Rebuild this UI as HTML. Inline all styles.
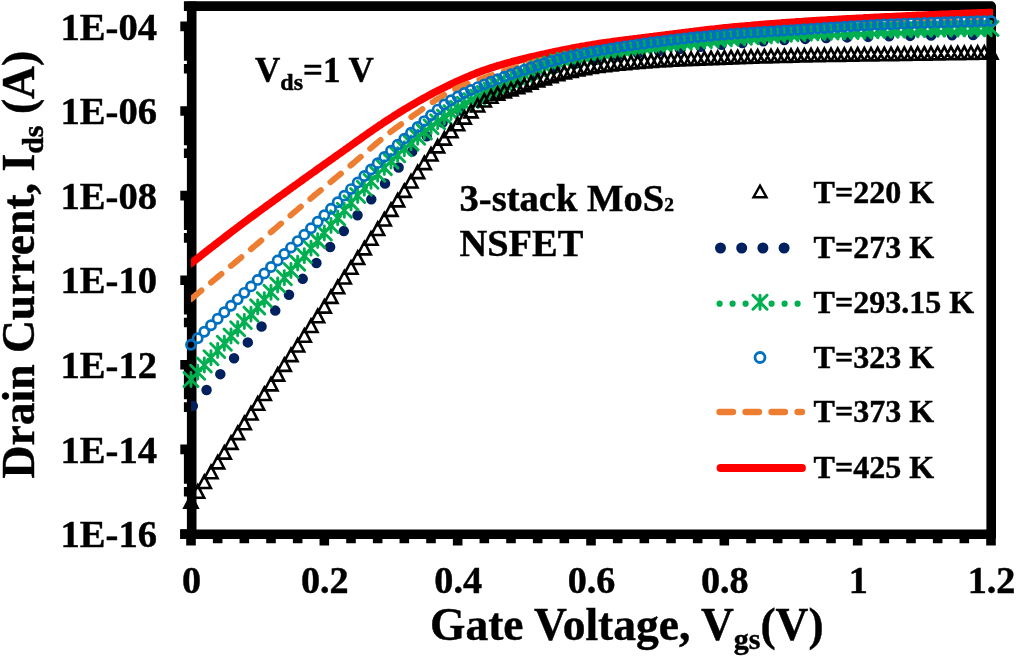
<!DOCTYPE html>
<html><head><meta charset="utf-8"><title>Drain current vs gate voltage</title>
<style>html,body{margin:0;padding:0;background:#fff;} svg{display:block;}</style>
</head><body>
<svg width="1016" height="658" viewBox="0 0 1016 658"><defs><clipPath id="pa"><rect x="191" y="3" width="802" height="531"/></clipPath></defs><rect width="1016" height="658" fill="#fff"/><path d="M183.9,6.1 H991.2 V538.6" fill="none" stroke="#000" stroke-width="9.6" stroke-linejoin="round"/><path d="M191.7,1.5 V538.6 M180.2,534.2 H995.6" fill="none" stroke="#000" stroke-width="9.6"/><path d="M180.3,534.00 H188 M180.3,449.40 H188 M180.3,364.80 H188 M180.3,280.20 H188 M180.3,195.60 H188 M180.3,111.00 H188 M180.3,26.40 H188 M183.9,491.70 H188 M183.9,478.97 H188 M183.9,471.52 H188 M183.9,466.23 H188 M183.9,462.13 H188 M183.9,458.78 H188 M183.9,455.95 H188 M183.9,453.50 H188 M183.9,451.34 H188 M183.9,407.10 H188 M183.9,394.37 H188 M183.9,386.92 H188 M183.9,381.63 H188 M183.9,377.53 H188 M183.9,374.18 H188 M183.9,371.35 H188 M183.9,368.90 H188 M183.9,366.74 H188 M183.9,322.50 H188 M183.9,309.77 H188 M183.9,302.32 H188 M183.9,297.03 H188 M183.9,292.93 H188 M183.9,289.58 H188 M183.9,286.75 H188 M183.9,284.30 H188 M183.9,282.14 H188 M183.9,237.90 H188 M183.9,225.17 H188 M183.9,217.72 H188 M183.9,212.43 H188 M183.9,208.33 H188 M183.9,204.98 H188 M183.9,202.15 H188 M183.9,199.70 H188 M183.9,197.54 H188 M183.9,153.30 H188 M183.9,140.57 H188 M183.9,133.12 H188 M183.9,127.83 H188 M183.9,123.73 H188 M183.9,120.38 H188 M183.9,117.55 H188 M183.9,115.10 H188 M183.9,112.94 H188 M183.9,68.70 H188 M183.9,55.97 H188 M183.9,48.52 H188 M183.9,43.23 H188 M183.9,39.13 H188 M183.9,35.78 H188 M183.9,32.95 H188 M183.9,30.50 H188 M183.9,28.34 H188" stroke="#000" stroke-width="9.6" fill="none"/><path d="M191.00,536 V545.6 M217.67,536 V543.3 M244.33,536 V543.3 M271.00,536 V543.3 M297.67,536 V543.3 M324.33,536 V545.6 M351.00,536 V543.3 M377.67,536 V543.3 M404.33,536 V543.3 M431.00,536 V543.3 M457.67,536 V545.6 M484.33,536 V543.3 M511.00,536 V543.3 M537.67,536 V543.3 M564.33,536 V543.3 M591.00,536 V545.6 M617.67,536 V543.3 M644.33,536 V543.3 M671.00,536 V543.3 M697.67,536 V543.3 M724.33,536 V545.6 M751.00,536 V543.3 M777.67,536 V543.3 M804.33,536 V543.3 M831.00,536 V543.3 M857.67,536 V545.6 M884.33,536 V543.3 M911.00,536 V543.3 M937.67,536 V543.3 M964.33,536 V543.3 M991.00,536 V545.6" stroke="#000" stroke-width="9.6" fill="none"/><path d="M191.0,263.4 L193.0,261.9 L195.0,260.3 L197.0,258.7 L199.0,257.2 L201.0,255.6 L203.0,254.0 L205.0,252.4 L207.0,250.9 L209.0,249.3 L211.0,247.7 L213.0,246.2 L215.0,244.6 L217.0,243.1 L219.0,241.5 L221.0,240.0 L223.0,238.5 L225.0,236.9 L227.0,235.4 L229.0,233.9 L231.0,232.3 L233.0,230.8 L235.0,229.3 L237.0,227.8 L239.0,226.3 L241.0,224.8 L243.0,223.3 L245.0,221.8 L247.0,220.3 L249.0,218.8 L251.0,217.3 L253.0,215.9 L255.0,214.4 L257.0,212.9 L259.0,211.5 L261.0,210.0 L263.0,208.5 L265.0,207.1 L267.0,205.6 L269.0,204.2 L271.0,202.7 L273.0,201.3 L275.0,199.8 L277.0,198.4 L279.0,196.9 L281.0,195.5 L283.0,194.1 L285.0,192.6 L287.0,191.2 L289.0,189.7 L291.0,188.3 L293.0,186.8 L295.0,185.4 L297.0,184.0 L299.0,182.5 L301.0,181.1 L303.0,179.6 L305.0,178.2 L307.0,176.8 L309.0,175.3 L311.0,173.9 L313.0,172.5 L315.0,171.1 L317.0,169.6 L319.0,168.2 L321.0,166.8 L323.0,165.3 L325.0,163.9 L327.0,162.5 L329.0,161.1 L331.0,159.7 L333.0,158.3 L335.0,156.8 L337.0,155.4 L339.0,154.0 L341.0,152.6 L343.0,151.2 L345.0,149.7 L347.0,148.3 L349.0,146.9 L351.0,145.5 L353.0,144.0 L355.0,142.6 L357.0,141.2 L359.0,139.8 L361.0,138.4 L363.0,136.9 L365.0,135.5 L367.0,134.1 L369.0,132.7 L371.0,131.3 L373.0,129.9 L375.0,128.5 L377.0,127.2 L379.0,125.8 L381.0,124.5 L383.0,123.1 L385.0,121.8 L387.0,120.5 L389.0,119.2 L391.0,117.9 L393.0,116.6 L395.0,115.3 L397.0,114.1 L399.0,112.8 L401.0,111.6 L403.0,110.3 L405.0,109.1 L407.0,107.9 L409.0,106.7 L411.0,105.5 L413.0,104.4 L415.0,103.2 L417.0,102.0 L419.0,100.9 L421.0,99.8 L423.0,98.7 L425.0,97.6 L427.0,96.5 L429.0,95.4 L431.0,94.3 L433.0,93.2 L435.0,92.2 L437.0,91.2 L439.0,90.1 L441.0,89.1 L443.0,88.1 L445.0,87.1 L447.0,86.1 L449.0,85.2 L451.0,84.2 L453.0,83.3 L455.0,82.3 L457.0,81.4 L459.0,80.5 L461.0,79.6 L463.0,78.7 L465.0,77.9 L467.0,77.0 L469.0,76.2 L471.0,75.3 L473.0,74.5 L475.0,73.7 L477.0,72.9 L479.0,72.2 L481.0,71.4 L483.0,70.7 L485.0,70.0 L487.0,69.3 L489.0,68.6 L491.0,67.9 L493.0,67.3 L495.0,66.7 L497.0,66.0 L499.0,65.4 L501.0,64.9 L503.0,64.3 L505.0,63.7 L507.0,63.1 L509.0,62.6 L511.0,62.1 L513.0,61.5 L515.0,61.0 L517.0,60.5 L519.0,60.0 L521.0,59.5 L523.0,59.0 L525.0,58.5 L527.0,58.0 L529.0,57.5 L531.0,57.0 L533.0,56.6 L535.0,56.1 L537.0,55.6 L539.0,55.2 L541.0,54.7 L543.0,54.3 L545.0,53.9 L547.0,53.4 L549.0,53.0 L551.0,52.6 L553.0,52.1 L555.0,51.7 L557.0,51.3 L559.0,50.9 L561.0,50.5 L563.0,50.1 L565.0,49.7 L567.0,49.3 L569.0,48.9 L571.0,48.5 L573.0,48.1 L575.0,47.7 L577.0,47.3 L579.0,47.0 L581.0,46.6 L583.0,46.2 L585.0,45.9 L587.0,45.5 L589.0,45.2 L591.0,44.9 L593.0,44.6 L595.0,44.2 L597.0,43.9 L599.0,43.6 L601.0,43.3 L603.0,43.0 L605.0,42.7 L607.0,42.4 L609.0,42.2 L611.0,41.9 L613.0,41.6 L615.0,41.3 L617.0,41.1 L619.0,40.8 L621.0,40.5 L623.0,40.3 L625.0,40.0 L627.0,39.7 L629.0,39.5 L631.0,39.2 L633.0,39.0 L635.0,38.7 L637.0,38.5 L639.0,38.2 L641.0,38.0 L643.0,37.7 L645.0,37.5 L647.0,37.2 L649.0,37.0 L651.0,36.7 L653.0,36.5 L655.0,36.2 L657.0,36.0 L659.0,35.7 L661.0,35.5 L663.0,35.2 L665.0,35.0 L667.0,34.7 L669.0,34.5 L671.0,34.2 L673.0,34.0 L675.0,33.7 L677.0,33.5 L679.0,33.2 L681.0,33.0 L683.0,32.7 L685.0,32.5 L687.0,32.2 L689.0,32.0 L691.0,31.7 L693.0,31.5 L695.0,31.2 L697.0,31.0 L699.0,30.8 L701.0,30.5 L703.0,30.3 L705.0,30.1 L707.0,29.8 L709.0,29.6 L711.0,29.4 L713.0,29.2 L715.0,29.0 L717.0,28.7 L719.0,28.5 L721.0,28.3 L723.0,28.1 L725.0,27.9 L727.0,27.7 L729.0,27.5 L731.0,27.3 L733.0,27.1 L735.0,26.9 L737.0,26.8 L739.0,26.6 L741.0,26.4 L743.0,26.2 L745.0,26.0 L747.0,25.8 L749.0,25.7 L751.0,25.5 L753.0,25.3 L755.0,25.1 L757.0,25.0 L759.0,24.8 L761.0,24.6 L763.0,24.5 L765.0,24.3 L767.0,24.1 L769.0,24.0 L771.0,23.8 L773.0,23.7 L775.0,23.5 L777.0,23.4 L779.0,23.2 L781.0,23.1 L783.0,22.9 L785.0,22.8 L787.0,22.6 L789.0,22.5 L791.0,22.3 L793.0,22.2 L795.0,22.1 L797.0,21.9 L799.0,21.8 L801.0,21.7 L803.0,21.5 L805.0,21.4 L807.0,21.3 L809.0,21.1 L811.0,21.0 L813.0,20.9 L815.0,20.8 L817.0,20.6 L819.0,20.5 L821.0,20.4 L823.0,20.3 L825.0,20.2 L827.0,20.0 L829.0,19.9 L831.0,19.8 L833.0,19.7 L835.0,19.6 L837.0,19.5 L839.0,19.3 L841.0,19.2 L843.0,19.1 L845.0,19.0 L847.0,18.9 L849.0,18.8 L851.0,18.7 L853.0,18.6 L855.0,18.5 L857.0,18.4 L859.0,18.3 L861.0,18.2 L863.0,18.1 L865.0,17.9 L867.0,17.8 L869.0,17.7 L871.0,17.6 L873.0,17.5 L875.0,17.4 L877.0,17.3 L879.0,17.2 L881.0,17.1 L883.0,17.0 L885.0,16.9 L887.0,16.8 L889.0,16.8 L891.0,16.7 L893.0,16.6 L895.0,16.5 L897.0,16.4 L899.0,16.3 L901.0,16.2 L903.0,16.1 L905.0,16.0 L907.0,15.9 L909.0,15.8 L911.0,15.7 L913.0,15.6 L915.0,15.5 L917.0,15.4 L919.0,15.4 L921.0,15.3 L923.0,15.2 L925.0,15.1 L927.0,15.0 L929.0,14.9 L931.0,14.8 L933.0,14.7 L935.0,14.7 L937.0,14.6 L939.0,14.5 L941.0,14.4 L943.0,14.3 L945.0,14.2 L947.0,14.2 L949.0,14.1 L951.0,14.0 L953.0,13.9 L955.0,13.8 L957.0,13.8 L959.0,13.7 L961.0,13.6 L963.0,13.5 L965.0,13.4 L967.0,13.4 L969.0,13.3 L971.0,13.2 L973.0,13.1 L975.0,13.1 L977.0,13.0 L979.0,12.9 L981.0,12.8 L983.0,12.8 L985.0,12.7 L987.0,12.6 L989.0,12.6 L991.0,12.5" fill="none" stroke="#FF0000" stroke-width="7.6" stroke-linecap="round" stroke-linejoin="round" clip-path="url(#pa)"/><path d="M191.0,299.1 L193.0,297.5 L195.0,295.8 L197.0,294.2 L199.0,292.5 L201.0,290.9 L203.0,289.2 L205.0,287.6 L207.0,285.9 L209.0,284.2 L211.0,282.6 L213.0,280.9 L215.0,279.3 L217.0,277.6 L219.0,275.9 L221.0,274.3 L223.0,272.6 L225.0,270.9 L227.0,269.3 L229.0,267.6 L231.0,265.9 L233.0,264.3 L235.0,262.6 L237.0,260.9 L239.0,259.2 L241.0,257.6 L243.0,255.9 L245.0,254.2 L247.0,252.5 L249.0,250.8 L251.0,249.1 L253.0,247.4 L255.0,245.8 L257.0,244.1 L259.0,242.4 L261.0,240.7 L263.0,238.9 L265.0,237.2 L267.0,235.5 L269.0,233.8 L271.0,232.1 L273.0,230.4 L275.0,228.7 L277.0,227.0 L279.0,225.3 L281.0,223.6 L283.0,221.8 L285.0,220.1 L287.0,218.4 L289.0,216.7 L291.0,215.0 L293.0,213.3 L295.0,211.6 L297.0,210.0 L299.0,208.3 L301.0,206.6 L303.0,204.9 L305.0,203.2 L307.0,201.6 L309.0,199.9 L311.0,198.2 L313.0,196.6 L315.0,194.9 L317.0,193.3 L319.0,191.6 L321.0,190.0 L323.0,188.3 L325.0,186.7 L327.0,185.0 L329.0,183.4 L331.0,181.7 L333.0,180.1 L335.0,178.4 L337.0,176.8 L339.0,175.1 L341.0,173.5 L343.0,171.8 L345.0,170.1 L347.0,168.5 L349.0,166.8 L351.0,165.1 L353.0,163.4 L355.0,161.7 L357.0,160.0 L359.0,158.3 L361.0,156.6 L363.0,154.9 L365.0,153.1 L367.0,151.4 L369.0,149.7 L371.0,148.0 L373.0,146.3 L375.0,144.6 L377.0,142.9 L379.0,141.3 L381.0,139.6 L383.0,138.0 L385.0,136.4 L387.0,134.8 L389.0,133.2 L391.0,131.7 L393.0,130.2 L395.0,128.7 L397.0,127.2 L399.0,125.8 L401.0,124.3 L403.0,122.9 L405.0,121.4 L407.0,120.0 L409.0,118.6 L411.0,117.2 L413.0,115.8 L415.0,114.4 L417.0,113.0 L419.0,111.6 L421.0,110.1 L423.0,108.7 L425.0,107.3 L427.0,105.9 L429.0,104.6 L431.0,103.2 L433.0,101.9 L435.0,100.6 L437.0,99.3 L439.0,98.0 L441.0,96.8 L443.0,95.6 L445.0,94.4 L447.0,93.3 L449.0,92.2 L451.0,91.2 L453.0,90.2 L455.0,89.2 L457.0,88.2 L459.0,87.3 L461.0,86.5 L463.0,85.6 L465.0,84.8 L467.0,84.0 L469.0,83.3 L471.0,82.5 L473.0,81.8 L475.0,81.1 L477.0,80.4 L479.0,79.7 L481.0,79.0 L483.0,78.3 L485.0,77.6 L487.0,76.9 L489.0,76.2 L491.0,75.5 L493.0,74.8 L495.0,74.2 L497.0,73.5 L499.0,72.8 L501.0,72.1 L503.0,71.5 L505.0,70.8 L507.0,70.1 L509.0,69.5 L511.0,68.8 L513.0,68.2 L515.0,67.6 L517.0,66.9 L519.0,66.3 L521.0,65.7 L523.0,65.1 L525.0,64.5 L527.0,64.0 L529.0,63.4 L531.0,62.8 L533.0,62.3 L535.0,61.7 L537.0,61.2 L539.0,60.7 L541.0,60.2 L543.0,59.7 L545.0,59.2 L547.0,58.7 L549.0,58.3 L551.0,57.8 L553.0,57.4 L555.0,57.0 L557.0,56.5 L559.0,56.1 L561.0,55.7 L563.0,55.3 L565.0,54.9 L567.0,54.5 L569.0,54.1 L571.0,53.7 L573.0,53.3 L575.0,52.9 L577.0,52.5 L579.0,52.1 L581.0,51.8 L583.0,51.4 L585.0,51.0 L587.0,50.7 L589.0,50.3 L591.0,50.0 L593.0,49.6 L595.0,49.3 L597.0,48.9 L599.0,48.6 L601.0,48.2 L603.0,47.9 L605.0,47.6 L607.0,47.3 L609.0,46.9 L611.0,46.6 L613.0,46.3 L615.0,46.0 L617.0,45.7 L619.0,45.4 L621.0,45.1 L623.0,44.8 L625.0,44.5 L627.0,44.2 L629.0,43.9 L631.0,43.7 L633.0,43.4 L635.0,43.1 L637.0,42.8 L639.0,42.6 L641.0,42.3 L643.0,42.1 L645.0,41.8 L647.0,41.6 L649.0,41.3 L651.0,41.1 L653.0,40.8 L655.0,40.6 L657.0,40.4 L659.0,40.1 L661.0,39.9 L663.0,39.7 L665.0,39.5 L667.0,39.2 L669.0,39.0 L671.0,38.8 L673.0,38.6 L675.0,38.4 L677.0,38.2 L679.0,38.0 L681.0,37.8 L683.0,37.6 L685.0,37.4 L687.0,37.2 L689.0,37.0 L691.0,36.8 L693.0,36.6 L695.0,36.4 L697.0,36.2 L699.0,36.0 L701.0,35.8 L703.0,35.6 L705.0,35.5 L707.0,35.3 L709.0,35.1 L711.0,34.9 L713.0,34.7 L715.0,34.6 L717.0,34.4 L719.0,34.2 L721.0,34.1 L723.0,33.9 L725.0,33.7 L727.0,33.6 L729.0,33.4 L731.0,33.2 L733.0,33.1 L735.0,32.9 L737.0,32.7 L739.0,32.6 L741.0,32.4 L743.0,32.3 L745.0,32.1 L747.0,32.0 L749.0,31.8 L751.0,31.7 L753.0,31.5 L755.0,31.4 L757.0,31.2 L759.0,31.1 L761.0,31.0 L763.0,30.8 L765.0,30.7 L767.0,30.5 L769.0,30.4 L771.0,30.3 L773.0,30.1 L775.0,30.0 L777.0,29.9 L779.0,29.7 L781.0,29.6 L783.0,29.5 L785.0,29.3 L787.0,29.2 L789.0,29.1 L791.0,28.9 L793.0,28.8 L795.0,28.7 L797.0,28.6 L799.0,28.4 L801.0,28.3 L803.0,28.2 L805.0,28.1 L807.0,27.9 L809.0,27.8 L811.0,27.7 L813.0,27.6 L815.0,27.4 L817.0,27.3 L819.0,27.2 L821.0,27.1 L823.0,26.9 L825.0,26.8 L827.0,26.7 L829.0,26.6 L831.0,26.5 L833.0,26.3 L835.0,26.2 L837.0,26.1 L839.0,26.0 L841.0,25.9 L843.0,25.7 L845.0,25.6 L847.0,25.5 L849.0,25.4 L851.0,25.3 L853.0,25.2 L855.0,25.0 L857.0,24.9 L859.0,24.8 L861.0,24.7 L863.0,24.6 L865.0,24.5 L867.0,24.4 L869.0,24.3 L871.0,24.2 L873.0,24.0 L875.0,23.9 L877.0,23.8 L879.0,23.7 L881.0,23.6 L883.0,23.5 L885.0,23.4 L887.0,23.3 L889.0,23.2 L891.0,23.1 L893.0,23.0 L895.0,22.9 L897.0,22.8 L899.0,22.7 L901.0,22.6 L903.0,22.5 L905.0,22.4 L907.0,22.3 L909.0,22.2 L911.0,22.1 L913.0,22.0 L915.0,21.9 L917.0,21.8 L919.0,21.7 L921.0,21.6 L923.0,21.5 L925.0,21.5 L927.0,21.4 L929.0,21.3 L931.0,21.2 L933.0,21.1 L935.0,21.0 L937.0,20.9 L939.0,20.8 L941.0,20.8 L943.0,20.7 L945.0,20.6 L947.0,20.5 L949.0,20.4 L951.0,20.4 L953.0,20.3 L955.0,20.2 L957.0,20.1 L959.0,20.1 L961.0,20.0 L963.0,19.9 L965.0,19.8 L967.0,19.8 L969.0,19.7 L971.0,19.6 L973.0,19.6 L975.0,19.5 L977.0,19.4 L979.0,19.4 L981.0,19.3 L983.0,19.2 L985.0,19.2 L987.0,19.1 L989.0,19.0 L991.0,18.9" fill="none" stroke="#ED7D31" stroke-width="6" stroke-dasharray="13.5 12.5" stroke-linecap="round" clip-path="url(#pa)"/><path d="M191.0,408.0 L192.0,406.8 L193.0,405.7 L194.0,404.5 L195.0,403.4 L196.0,402.2 L197.0,401.1 L198.0,399.9 L199.0,398.8 L200.0,397.6 L201.0,396.5 L202.0,395.3 L203.0,394.1 L204.0,393.0 L205.0,391.8 L206.0,390.7 L207.0,389.5 L208.0,388.4 L209.0,387.2 L210.0,386.1 L211.0,384.9 L212.0,383.7 L213.0,382.6 L214.0,381.4 L215.0,380.3 L216.0,379.1 L217.0,378.0 L218.0,376.8 L219.0,375.7 L220.0,374.5 L221.0,373.4 L222.0,372.2 L223.0,371.0 L224.0,369.9 L225.0,368.7 L226.0,367.6 L227.0,366.4 L228.0,365.3 L229.0,364.1 L230.0,363.0 L231.0,361.8 L232.0,360.6 L233.0,359.5 L234.0,358.3 L235.0,357.2 L236.0,356.0 L237.0,354.9 L238.0,353.7 L239.0,352.6 L240.0,351.4 L241.0,350.2 L242.0,349.1 L243.0,347.9 L244.0,346.8 L245.0,345.6 L246.0,344.5 L247.0,343.3 L248.0,342.2 L249.0,341.0 L250.0,339.8 L251.0,338.7 L252.0,337.5 L253.0,336.4 L254.0,335.2 L255.0,334.1 L256.0,332.9 L257.0,331.7 L258.0,330.6 L259.0,329.4 L260.0,328.3 L261.0,327.1 L262.0,326.0 L263.0,324.8 L264.0,323.7 L265.0,322.5 L266.0,321.3 L267.0,320.2 L268.0,319.0 L269.0,317.9 L270.0,316.7 L271.0,315.6 L272.0,314.4 L273.0,313.2 L274.0,312.1 L275.0,310.9 L276.0,309.8 L277.0,308.6 L278.0,307.5 L279.0,306.3 L280.0,305.2 L281.0,304.0 L282.0,302.8 L283.0,301.7 L284.0,300.5 L285.0,299.4 L286.0,298.2 L287.0,297.1 L288.0,295.9 L289.0,294.7 L290.0,293.6 L291.0,292.4 L292.0,291.3 L293.0,290.1 L294.0,288.9 L295.0,287.8 L296.0,286.6 L297.0,285.5 L298.0,284.3 L299.0,283.2 L300.0,282.0 L301.0,280.8 L302.0,279.7 L303.0,278.5 L304.0,277.4 L305.0,276.2 L306.0,275.0 L307.0,273.9 L308.0,272.7 L309.0,271.6 L310.0,270.4 L311.0,269.2 L312.0,268.1 L313.0,266.9 L314.0,265.8 L315.0,264.6 L316.0,263.4 L317.0,262.3 L318.0,261.1 L319.0,259.9 L320.0,258.8 L321.0,257.6 L322.0,256.5 L323.0,255.3 L324.0,254.1 L325.0,253.0 L326.0,251.8 L327.0,250.7 L328.0,249.5 L329.0,248.3 L330.0,247.2 L331.0,246.0 L332.0,244.8 L333.0,243.7 L334.0,242.5 L335.0,241.4 L336.0,240.2 L337.0,239.0 L338.0,237.9 L339.0,236.7 L340.0,235.6 L341.0,234.4 L342.0,233.2 L343.0,232.1 L344.0,230.9 L345.0,229.8 L346.0,228.6 L347.0,227.4 L348.0,226.3 L349.0,225.1 L350.0,224.0 L351.0,222.8 L352.0,221.7 L353.0,220.5 L354.0,219.3 L355.0,218.2 L356.0,217.0 L357.0,215.9 L358.0,214.7 L359.0,213.6 L360.0,212.4 L361.0,211.2 L362.0,210.1 L363.0,208.9 L364.0,207.8 L365.0,206.6 L366.0,205.5 L367.0,204.3 L368.0,203.2 L369.0,202.0 L370.0,200.9 L371.0,199.7 L372.0,198.5 L373.0,197.4 L374.0,196.2 L375.0,195.1 L376.0,193.9 L377.0,192.8 L378.0,191.6 L379.0,190.5 L380.0,189.3 L381.0,188.2 L382.0,187.0 L383.0,185.8 L384.0,184.7 L385.0,183.5 L386.0,182.4 L387.0,181.2 L388.0,180.0 L389.0,178.8 L390.0,177.7 L391.0,176.5 L392.0,175.3 L393.0,174.1 L394.0,172.9 L395.0,171.7 L396.0,170.6 L397.0,169.4 L398.0,168.2 L399.0,167.0 L400.0,165.8 L401.0,164.6 L402.0,163.4 L403.0,162.2 L404.0,161.0 L405.0,159.9 L406.0,158.7 L407.0,157.5 L408.0,156.3 L409.0,155.2 L410.0,154.0 L411.0,152.9 L412.0,151.7 L413.0,150.6 L414.0,149.5 L415.0,148.4 L416.0,147.3 L417.0,146.2 L418.0,145.1 L419.0,144.0 L420.0,143.0 L421.0,142.0 L422.0,140.9 L423.0,139.9 L424.0,138.9 L425.0,137.9 L426.0,137.0 L427.0,136.0 L428.0,135.0 L429.0,134.1 L430.0,133.2 L431.0,132.3 L432.0,131.4 L433.0,130.5 L434.0,129.6 L435.0,128.8 L436.0,127.9 L437.0,127.1 L438.0,126.3 L439.0,125.5 L440.0,124.7 L441.0,123.9 L442.0,123.1 L443.0,122.3 L444.0,121.6 L445.0,120.8 L446.0,120.1 L447.0,119.3 L448.0,118.6 L449.0,117.9 L450.0,117.2 L451.0,116.5 L452.0,115.8 L453.0,115.1 L454.0,114.4 L455.0,113.7 L456.0,113.0 L457.0,112.4 L458.0,111.7 L459.0,111.0 L460.0,110.4 L461.0,109.8 L462.0,109.1 L463.0,108.5 L464.0,107.9 L465.0,107.3 L466.0,106.6 L467.0,106.0 L468.0,105.4 L469.0,104.9 L470.0,104.3 L471.0,103.7 L472.0,103.1 L473.0,102.6 L474.0,102.0 L475.0,101.5 L476.0,100.9 L477.0,100.4 L478.0,99.9 L479.0,99.3 L480.0,98.8 L481.0,98.3 L482.0,97.8 L483.0,97.3 L484.0,96.8 L485.0,96.3 L486.0,95.8 L487.0,95.3 L488.0,94.8 L489.0,94.3 L490.0,93.8 L491.0,93.3 L492.0,92.9 L493.0,92.4 L494.0,91.9 L495.0,91.4 L496.0,91.0 L497.0,90.5 L498.0,90.0 L499.0,89.5 L500.0,89.1 L501.0,88.6 L502.0,88.2 L503.0,87.7 L504.0,87.2 L505.0,86.8 L506.0,86.3 L507.0,85.9 L508.0,85.4 L509.0,85.0 L510.0,84.5 L511.0,84.1 L512.0,83.7 L513.0,83.2 L514.0,82.8 L515.0,82.4 L516.0,82.0 L517.0,81.5 L518.0,81.1 L519.0,80.7 L520.0,80.3 L521.0,79.9 L522.0,79.5 L523.0,79.1 L524.0,78.7 L525.0,78.3 L526.0,77.9 L527.0,77.5 L528.0,77.1 L529.0,76.7 L530.0,76.3 L531.0,76.0 L532.0,75.6 L533.0,75.2 L534.0,74.9 L535.0,74.5 L536.0,74.2 L537.0,73.8 L538.0,73.5 L539.0,73.1 L540.0,72.8 L541.0,72.5 L542.0,72.2 L543.0,71.8 L544.0,71.5 L545.0,71.2 L546.0,70.9 L547.0,70.6 L548.0,70.3 L549.0,70.0 L550.0,69.7 L551.0,69.4 L552.0,69.2 L553.0,68.9 L554.0,68.6 L555.0,68.3 L556.0,68.1 L557.0,67.8 L558.0,67.6 L559.0,67.3 L560.0,67.1 L561.0,66.8 L562.0,66.6 L563.0,66.4 L564.0,66.1 L565.0,65.9 L566.0,65.7 L567.0,65.5 L568.0,65.3 L569.0,65.0 L570.0,64.8 L571.0,64.6 L572.0,64.4 L573.0,64.2 L574.0,64.0 L575.0,63.8 L576.0,63.6 L577.0,63.4 L578.0,63.2 L579.0,63.0 L580.0,62.8 L581.0,62.6 L582.0,62.4 L583.0,62.2 L584.0,62.0 L585.0,61.8 L586.0,61.6 L587.0,61.4 L588.0,61.2 L589.0,61.0 L590.0,60.9 L591.0,60.7 L592.0,60.5 L593.0,60.3 L594.0,60.1 L595.0,60.0 L596.0,59.8 L597.0,59.6 L598.0,59.4 L599.0,59.3 L600.0,59.1 L601.0,58.9 L602.0,58.8 L603.0,58.6 L604.0,58.4 L605.0,58.3 L606.0,58.1 L607.0,58.0 L608.0,57.8 L609.0,57.6 L610.0,57.5 L611.0,57.3 L612.0,57.2 L613.0,57.0 L614.0,56.9 L615.0,56.7 L616.0,56.6 L617.0,56.4 L618.0,56.3 L619.0,56.1 L620.0,56.0 L621.0,55.8 L622.0,55.7 L623.0,55.6 L624.0,55.4 L625.0,55.3 L626.0,55.1 L627.0,55.0 L628.0,54.9 L629.0,54.7 L630.0,54.6 L631.0,54.5 L632.0,54.3 L633.0,54.2 L634.0,54.1 L635.0,54.0 L636.0,53.8 L637.0,53.7 L638.0,53.6 L639.0,53.4 L640.0,53.3 L641.0,53.2 L642.0,53.1 L643.0,53.0 L644.0,52.8 L645.0,52.7 L646.0,52.6 L647.0,52.5 L648.0,52.4 L649.0,52.2 L650.0,52.1 L651.0,52.0 L652.0,51.9 L653.0,51.8 L654.0,51.7 L655.0,51.6 L656.0,51.5 L657.0,51.3 L658.0,51.2 L659.0,51.1 L660.0,51.0 L661.0,50.9 L662.0,50.8 L663.0,50.7 L664.0,50.6 L665.0,50.5 L666.0,50.4 L667.0,50.3 L668.0,50.1 L669.0,50.0 L670.0,49.9 L671.0,49.8 L672.0,49.7 L673.0,49.6 L674.0,49.5 L675.0,49.4 L676.0,49.3 L677.0,49.2 L678.0,49.1 L679.0,49.0 L680.0,48.9 L681.0,48.8 L682.0,48.7 L683.0,48.6 L684.0,48.5 L685.0,48.4 L686.0,48.3 L687.0,48.2 L688.0,48.1 L689.0,48.0 L690.0,47.9 L691.0,47.8 L692.0,47.6 L693.0,47.5 L694.0,47.4 L695.0,47.3 L696.0,47.2 L697.0,47.1 L698.0,47.0 L699.0,46.9 L700.0,46.8 L701.0,46.7 L702.0,46.7 L703.0,46.6 L704.0,46.5 L705.0,46.4 L706.0,46.3 L707.0,46.2 L708.0,46.1 L709.0,46.0 L710.0,45.9 L711.0,45.8 L712.0,45.7 L713.0,45.6 L714.0,45.5 L715.0,45.4 L716.0,45.3 L717.0,45.2 L718.0,45.1 L719.0,45.0 L720.0,44.9 L721.0,44.8 L722.0,44.7 L723.0,44.7 L724.0,44.6 L725.0,44.5 L726.0,44.4 L727.0,44.3 L728.0,44.2 L729.0,44.1 L730.0,44.0 L731.0,43.9 L732.0,43.9 L733.0,43.8 L734.0,43.7 L735.0,43.6 L736.0,43.5 L737.0,43.4 L738.0,43.3 L739.0,43.3 L740.0,43.2 L741.0,43.1 L742.0,43.0 L743.0,42.9 L744.0,42.8 L745.0,42.8 L746.0,42.7 L747.0,42.6 L748.0,42.5 L749.0,42.4 L750.0,42.4 L751.0,42.3 L752.0,42.2 L753.0,42.1 L754.0,42.0 L755.0,42.0 L756.0,41.9 L757.0,41.8 L758.0,41.7 L759.0,41.7 L760.0,41.6 L761.0,41.5 L762.0,41.4 L763.0,41.4 L764.0,41.3 L765.0,41.2 L766.0,41.2 L767.0,41.1 L768.0,41.0 L769.0,40.9 L770.0,40.9 L771.0,40.8 L772.0,40.7 L773.0,40.7 L774.0,40.6 L775.0,40.5 L776.0,40.5 L777.0,40.4 L778.0,40.3 L779.0,40.3 L780.0,40.2 L781.0,40.2 L782.0,40.1 L783.0,40.0 L784.0,40.0 L785.0,39.9 L786.0,39.9 L787.0,39.8 L788.0,39.7 L789.0,39.7 L790.0,39.6 L791.0,39.6 L792.0,39.5 L793.0,39.5 L794.0,39.4 L795.0,39.3 L796.0,39.3 L797.0,39.2 L798.0,39.2 L799.0,39.1 L800.0,39.1 L801.0,39.0 L802.0,39.0 L803.0,38.9 L804.0,38.9 L805.0,38.9 L806.0,38.8 L807.0,38.8 L808.0,38.7 L809.0,38.7 L810.0,38.6 L811.0,38.6 L812.0,38.5 L813.0,38.5 L814.0,38.5 L815.0,38.4 L816.0,38.4 L817.0,38.4 L818.0,38.3 L819.0,38.3 L820.0,38.2 L821.0,38.2 L822.0,38.2 L823.0,38.1 L824.0,38.1 L825.0,38.1 L826.0,38.0 L827.0,38.0 L828.0,38.0 L829.0,37.9 L830.0,37.9 L831.0,37.9 L832.0,37.9 L833.0,37.8 L834.0,37.8 L835.0,37.8 L836.0,37.7 L837.0,37.7 L838.0,37.7 L839.0,37.7 L840.0,37.6 L841.0,37.6 L842.0,37.6 L843.0,37.5 L844.0,37.5 L845.0,37.5 L846.0,37.5 L847.0,37.4 L848.0,37.4 L849.0,37.4 L850.0,37.3 L851.0,37.3 L852.0,37.3 L853.0,37.3 L854.0,37.2 L855.0,37.2 L856.0,37.2 L857.0,37.1 L858.0,37.1 L859.0,37.1 L860.0,37.1 L861.0,37.0 L862.0,37.0 L863.0,37.0 L864.0,37.0 L865.0,36.9 L866.0,36.9 L867.0,36.9 L868.0,36.9 L869.0,36.8 L870.0,36.8 L871.0,36.8 L872.0,36.7 L873.0,36.7 L874.0,36.7 L875.0,36.7 L876.0,36.6 L877.0,36.6 L878.0,36.6 L879.0,36.6 L880.0,36.5 L881.0,36.5 L882.0,36.5 L883.0,36.5 L884.0,36.5 L885.0,36.4 L886.0,36.4 L887.0,36.4 L888.0,36.4 L889.0,36.3 L890.0,36.3 L891.0,36.3 L892.0,36.3 L893.0,36.2 L894.0,36.2 L895.0,36.2 L896.0,36.2 L897.0,36.2 L898.0,36.1 L899.0,36.1 L900.0,36.1 L901.0,36.1 L902.0,36.0 L903.0,36.0 L904.0,36.0 L905.0,36.0 L906.0,36.0 L907.0,35.9 L908.0,35.9 L909.0,35.9 L910.0,35.9 L911.0,35.9 L912.0,35.8 L913.0,35.8 L914.0,35.8 L915.0,35.8 L916.0,35.8 L917.0,35.7 L918.0,35.7 L919.0,35.7 L920.0,35.7 L921.0,35.7 L922.0,35.7 L923.0,35.6 L924.0,35.6 L925.0,35.6 L926.0,35.6 L927.0,35.6 L928.0,35.6 L929.0,35.5 L930.0,35.5 L931.0,35.5 L932.0,35.5 L933.0,35.5 L934.0,35.5 L935.0,35.4 L936.0,35.4 L937.0,35.4 L938.0,35.4 L939.0,35.4 L940.0,35.4 L941.0,35.4 L942.0,35.3 L943.0,35.3 L944.0,35.3 L945.0,35.3 L946.0,35.3 L947.0,35.3 L948.0,35.3 L949.0,35.3 L950.0,35.2 L951.0,35.2 L952.0,35.2 L953.0,35.2 L954.0,35.2 L955.0,35.2 L956.0,35.2 L957.0,35.2 L958.0,35.2 L959.0,35.2 L960.0,35.1 L961.0,35.1 L962.0,35.1 L963.0,35.1 L964.0,35.1 L965.0,35.1 L966.0,35.1 L967.0,35.1 L968.0,35.1 L969.0,35.1 L970.0,35.1 L971.0,35.1 L972.0,35.1 L973.0,35.1 L974.0,35.0 L975.0,35.0 L976.0,35.0 L977.0,35.0 L978.0,35.0 L979.0,35.0 L980.0,35.0 L981.0,35.0 L982.0,35.0 L983.0,35.0 L984.0,35.0 L985.0,35.0 L986.0,35.0 L987.0,35.0 L988.0,35.0 L989.0,35.0 L990.0,35.0 L991.0,35.0" fill="none" stroke="#002060" stroke-width="10.5" stroke-dasharray="0 21" stroke-dashoffset="-2.8" stroke-linecap="round" clip-path="url(#pa)"/><path d="M191.0,379.5 L192.0,378.4 L193.0,377.3 L194.0,376.2 L195.0,375.2 L196.0,374.1 L197.0,373.0 L198.0,371.9 L199.0,370.8 L200.0,369.7 L201.0,368.6 L202.0,367.5 L203.0,366.4 L204.0,365.4 L205.0,364.3 L206.0,363.2 L207.0,362.1 L208.0,361.0 L209.0,359.9 L210.0,358.8 L211.0,357.7 L212.0,356.7 L213.0,355.6 L214.0,354.5 L215.0,353.4 L216.0,352.3 L217.0,351.2 L218.0,350.1 L219.0,349.0 L220.0,347.9 L221.0,346.9 L222.0,345.8 L223.0,344.7 L224.0,343.6 L225.0,342.5 L226.0,341.4 L227.0,340.3 L228.0,339.2 L229.0,338.1 L230.0,337.0 L231.0,336.0 L232.0,334.9 L233.0,333.8 L234.0,332.7 L235.0,331.6 L236.0,330.5 L237.0,329.4 L238.0,328.3 L239.0,327.2 L240.0,326.2 L241.0,325.1 L242.0,324.0 L243.0,322.9 L244.0,321.8 L245.0,320.7 L246.0,319.6 L247.0,318.5 L248.0,317.4 L249.0,316.3 L250.0,315.2 L251.0,314.2 L252.0,313.1 L253.0,312.0 L254.0,310.9 L255.0,309.8 L256.0,308.7 L257.0,307.6 L258.0,306.5 L259.0,305.4 L260.0,304.3 L261.0,303.3 L262.0,302.2 L263.0,301.1 L264.0,300.0 L265.0,298.9 L266.0,297.8 L267.0,296.7 L268.0,295.6 L269.0,294.5 L270.0,293.4 L271.0,292.3 L272.0,291.2 L273.0,290.2 L274.0,289.1 L275.0,288.0 L276.0,286.9 L277.0,285.8 L278.0,284.7 L279.0,283.6 L280.0,282.5 L281.0,281.4 L282.0,280.3 L283.0,279.2 L284.0,278.1 L285.0,277.0 L286.0,276.0 L287.0,274.9 L288.0,273.8 L289.0,272.7 L290.0,271.6 L291.0,270.5 L292.0,269.4 L293.0,268.3 L294.0,267.2 L295.0,266.1 L296.0,265.0 L297.0,263.8 L298.0,262.7 L299.0,261.6 L300.0,260.5 L301.0,259.4 L302.0,258.3 L303.0,257.2 L304.0,256.0 L305.0,254.9 L306.0,253.8 L307.0,252.7 L308.0,251.5 L309.0,250.4 L310.0,249.3 L311.0,248.2 L312.0,247.0 L313.0,245.9 L314.0,244.8 L315.0,243.6 L316.0,242.5 L317.0,241.4 L318.0,240.2 L319.0,239.1 L320.0,238.0 L321.0,236.8 L322.0,235.7 L323.0,234.5 L324.0,233.4 L325.0,232.3 L326.0,231.1 L327.0,230.0 L328.0,228.8 L329.0,227.7 L330.0,226.6 L331.0,225.4 L332.0,224.3 L333.0,223.2 L334.0,222.0 L335.0,220.9 L336.0,219.7 L337.0,218.6 L338.0,217.5 L339.0,216.4 L340.0,215.2 L341.0,214.1 L342.0,213.0 L343.0,211.8 L344.0,210.7 L345.0,209.6 L346.0,208.5 L347.0,207.4 L348.0,206.2 L349.0,205.1 L350.0,204.0 L351.0,202.9 L352.0,201.8 L353.0,200.7 L354.0,199.6 L355.0,198.5 L356.0,197.4 L357.0,196.3 L358.0,195.2 L359.0,194.1 L360.0,193.0 L361.0,191.9 L362.0,190.8 L363.0,189.8 L364.0,188.7 L365.0,187.6 L366.0,186.5 L367.0,185.5 L368.0,184.4 L369.0,183.3 L370.0,182.3 L371.0,181.2 L372.0,180.2 L373.0,179.2 L374.0,178.1 L375.0,177.1 L376.0,176.0 L377.0,175.0 L378.0,174.0 L379.0,173.0 L380.0,172.0 L381.0,171.0 L382.0,169.9 L383.0,168.9 L384.0,168.0 L385.0,167.0 L386.0,166.0 L387.0,165.0 L388.0,164.0 L389.0,163.0 L390.0,162.1 L391.0,161.1 L392.0,160.2 L393.0,159.2 L394.0,158.3 L395.0,157.3 L396.0,156.4 L397.0,155.4 L398.0,154.5 L399.0,153.6 L400.0,152.7 L401.0,151.7 L402.0,150.8 L403.0,149.9 L404.0,149.0 L405.0,148.1 L406.0,147.2 L407.0,146.4 L408.0,145.5 L409.0,144.6 L410.0,143.7 L411.0,142.9 L412.0,142.0 L413.0,141.1 L414.0,140.3 L415.0,139.5 L416.0,138.6 L417.0,137.8 L418.0,137.0 L419.0,136.1 L420.0,135.3 L421.0,134.5 L422.0,133.7 L423.0,132.9 L424.0,132.1 L425.0,131.3 L426.0,130.6 L427.0,129.8 L428.0,129.0 L429.0,128.2 L430.0,127.5 L431.0,126.7 L432.0,126.0 L433.0,125.2 L434.0,124.5 L435.0,123.7 L436.0,123.0 L437.0,122.3 L438.0,121.6 L439.0,120.8 L440.0,120.1 L441.0,119.4 L442.0,118.7 L443.0,118.0 L444.0,117.3 L445.0,116.6 L446.0,115.9 L447.0,115.3 L448.0,114.6 L449.0,113.9 L450.0,113.3 L451.0,112.6 L452.0,111.9 L453.0,111.3 L454.0,110.7 L455.0,110.0 L456.0,109.4 L457.0,108.8 L458.0,108.1 L459.0,107.5 L460.0,106.9 L461.0,106.3 L462.0,105.7 L463.0,105.1 L464.0,104.5 L465.0,104.0 L466.0,103.4 L467.0,102.8 L468.0,102.2 L469.0,101.7 L470.0,101.1 L471.0,100.5 L472.0,100.0 L473.0,99.4 L474.0,98.9 L475.0,98.4 L476.0,97.8 L477.0,97.3 L478.0,96.7 L479.0,96.2 L480.0,95.7 L481.0,95.2 L482.0,94.6 L483.0,94.1 L484.0,93.6 L485.0,93.1 L486.0,92.5 L487.0,92.0 L488.0,91.5 L489.0,91.0 L490.0,90.5 L491.0,90.0 L492.0,89.5 L493.0,88.9 L494.0,88.4 L495.0,87.9 L496.0,87.4 L497.0,86.9 L498.0,86.4 L499.0,85.9 L500.0,85.4 L501.0,84.9 L502.0,84.4 L503.0,83.9 L504.0,83.4 L505.0,83.0 L506.0,82.5 L507.0,82.0 L508.0,81.5 L509.0,81.0 L510.0,80.6 L511.0,80.1 L512.0,79.6 L513.0,79.2 L514.0,78.7 L515.0,78.3 L516.0,77.8 L517.0,77.4 L518.0,76.9 L519.0,76.5 L520.0,76.0 L521.0,75.6 L522.0,75.2 L523.0,74.7 L524.0,74.3 L525.0,73.9 L526.0,73.4 L527.0,73.0 L528.0,72.6 L529.0,72.2 L530.0,71.7 L531.0,71.3 L532.0,70.9 L533.0,70.5 L534.0,70.1 L535.0,69.7 L536.0,69.3 L537.0,68.9 L538.0,68.5 L539.0,68.1 L540.0,67.7 L541.0,67.3 L542.0,66.9 L543.0,66.5 L544.0,66.2 L545.0,65.8 L546.0,65.4 L547.0,65.1 L548.0,64.7 L549.0,64.4 L550.0,64.1 L551.0,63.7 L552.0,63.4 L553.0,63.1 L554.0,62.8 L555.0,62.5 L556.0,62.2 L557.0,62.0 L558.0,61.7 L559.0,61.4 L560.0,61.2 L561.0,60.9 L562.0,60.7 L563.0,60.4 L564.0,60.2 L565.0,60.0 L566.0,59.8 L567.0,59.6 L568.0,59.3 L569.0,59.1 L570.0,58.9 L571.0,58.7 L572.0,58.5 L573.0,58.3 L574.0,58.2 L575.0,58.0 L576.0,57.8 L577.0,57.6 L578.0,57.4 L579.0,57.2 L580.0,57.1 L581.0,56.9 L582.0,56.7 L583.0,56.6 L584.0,56.4 L585.0,56.2 L586.0,56.1 L587.0,55.9 L588.0,55.8 L589.0,55.6 L590.0,55.5 L591.0,55.3 L592.0,55.2 L593.0,55.0 L594.0,54.9 L595.0,54.7 L596.0,54.6 L597.0,54.4 L598.0,54.3 L599.0,54.1 L600.0,54.0 L601.0,53.8 L602.0,53.7 L603.0,53.6 L604.0,53.4 L605.0,53.3 L606.0,53.1 L607.0,53.0 L608.0,52.8 L609.0,52.7 L610.0,52.6 L611.0,52.4 L612.0,52.3 L613.0,52.1 L614.0,52.0 L615.0,51.8 L616.0,51.7 L617.0,51.5 L618.0,51.4 L619.0,51.2 L620.0,51.1 L621.0,50.9 L622.0,50.8 L623.0,50.6 L624.0,50.5 L625.0,50.3 L626.0,50.2 L627.0,50.0 L628.0,49.8 L629.0,49.7 L630.0,49.5 L631.0,49.4 L632.0,49.2 L633.0,49.0 L634.0,48.9 L635.0,48.7 L636.0,48.6 L637.0,48.4 L638.0,48.2 L639.0,48.1 L640.0,47.9 L641.0,47.8 L642.0,47.6 L643.0,47.5 L644.0,47.3 L645.0,47.1 L646.0,47.0 L647.0,46.8 L648.0,46.7 L649.0,46.5 L650.0,46.4 L651.0,46.3 L652.0,46.1 L653.0,46.0 L654.0,45.8 L655.0,45.7 L656.0,45.6 L657.0,45.4 L658.0,45.3 L659.0,45.2 L660.0,45.0 L661.0,44.9 L662.0,44.8 L663.0,44.7 L664.0,44.6 L665.0,44.4 L666.0,44.3 L667.0,44.2 L668.0,44.1 L669.0,44.0 L670.0,43.9 L671.0,43.7 L672.0,43.6 L673.0,43.5 L674.0,43.4 L675.0,43.3 L676.0,43.2 L677.0,43.1 L678.0,43.0 L679.0,42.9 L680.0,42.8 L681.0,42.7 L682.0,42.6 L683.0,42.5 L684.0,42.4 L685.0,42.3 L686.0,42.2 L687.0,42.1 L688.0,42.0 L689.0,41.9 L690.0,41.8 L691.0,41.7 L692.0,41.6 L693.0,41.5 L694.0,41.4 L695.0,41.3 L696.0,41.2 L697.0,41.1 L698.0,41.0 L699.0,40.9 L700.0,40.8 L701.0,40.8 L702.0,40.7 L703.0,40.6 L704.0,40.5 L705.0,40.4 L706.0,40.3 L707.0,40.2 L708.0,40.1 L709.0,40.1 L710.0,40.0 L711.0,39.9 L712.0,39.8 L713.0,39.7 L714.0,39.6 L715.0,39.5 L716.0,39.5 L717.0,39.4 L718.0,39.3 L719.0,39.2 L720.0,39.1 L721.0,39.0 L722.0,39.0 L723.0,38.9 L724.0,38.8 L725.0,38.7 L726.0,38.6 L727.0,38.6 L728.0,38.5 L729.0,38.4 L730.0,38.3 L731.0,38.2 L732.0,38.2 L733.0,38.1 L734.0,38.0 L735.0,37.9 L736.0,37.8 L737.0,37.8 L738.0,37.7 L739.0,37.6 L740.0,37.5 L741.0,37.4 L742.0,37.4 L743.0,37.3 L744.0,37.2 L745.0,37.1 L746.0,37.0 L747.0,37.0 L748.0,36.9 L749.0,36.8 L750.0,36.7 L751.0,36.6 L752.0,36.6 L753.0,36.5 L754.0,36.4 L755.0,36.3 L756.0,36.3 L757.0,36.2 L758.0,36.1 L759.0,36.0 L760.0,36.0 L761.0,35.9 L762.0,35.8 L763.0,35.7 L764.0,35.7 L765.0,35.6 L766.0,35.5 L767.0,35.4 L768.0,35.4 L769.0,35.3 L770.0,35.2 L771.0,35.1 L772.0,35.1 L773.0,35.0 L774.0,34.9 L775.0,34.9 L776.0,34.8 L777.0,34.7 L778.0,34.7 L779.0,34.6 L780.0,34.5 L781.0,34.5 L782.0,34.4 L783.0,34.3 L784.0,34.3 L785.0,34.2 L786.0,34.1 L787.0,34.1 L788.0,34.0 L789.0,33.9 L790.0,33.9 L791.0,33.8 L792.0,33.8 L793.0,33.7 L794.0,33.6 L795.0,33.6 L796.0,33.5 L797.0,33.5 L798.0,33.4 L799.0,33.4 L800.0,33.3 L801.0,33.3 L802.0,33.2 L803.0,33.2 L804.0,33.1 L805.0,33.1 L806.0,33.0 L807.0,33.0 L808.0,32.9 L809.0,32.9 L810.0,32.8 L811.0,32.8 L812.0,32.7 L813.0,32.7 L814.0,32.6 L815.0,32.6 L816.0,32.6 L817.0,32.5 L818.0,32.5 L819.0,32.5 L820.0,32.4 L821.0,32.4 L822.0,32.3 L823.0,32.3 L824.0,32.3 L825.0,32.2 L826.0,32.2 L827.0,32.2 L828.0,32.1 L829.0,32.1 L830.0,32.1 L831.0,32.0 L832.0,32.0 L833.0,32.0 L834.0,31.9 L835.0,31.9 L836.0,31.8 L837.0,31.8 L838.0,31.8 L839.0,31.7 L840.0,31.7 L841.0,31.7 L842.0,31.6 L843.0,31.6 L844.0,31.6 L845.0,31.5 L846.0,31.5 L847.0,31.5 L848.0,31.4 L849.0,31.4 L850.0,31.4 L851.0,31.3 L852.0,31.3 L853.0,31.3 L854.0,31.2 L855.0,31.2 L856.0,31.2 L857.0,31.2 L858.0,31.1 L859.0,31.1 L860.0,31.1 L861.0,31.0 L862.0,31.0 L863.0,31.0 L864.0,30.9 L865.0,30.9 L866.0,30.9 L867.0,30.8 L868.0,30.8 L869.0,30.8 L870.0,30.7 L871.0,30.7 L872.0,30.7 L873.0,30.7 L874.0,30.6 L875.0,30.6 L876.0,30.6 L877.0,30.5 L878.0,30.5 L879.0,30.5 L880.0,30.4 L881.0,30.4 L882.0,30.4 L883.0,30.4 L884.0,30.3 L885.0,30.3 L886.0,30.3 L887.0,30.2 L888.0,30.2 L889.0,30.2 L890.0,30.2 L891.0,30.1 L892.0,30.1 L893.0,30.1 L894.0,30.1 L895.0,30.0 L896.0,30.0 L897.0,30.0 L898.0,29.9 L899.0,29.9 L900.0,29.9 L901.0,29.9 L902.0,29.8 L903.0,29.8 L904.0,29.8 L905.0,29.8 L906.0,29.7 L907.0,29.7 L908.0,29.7 L909.0,29.7 L910.0,29.6 L911.0,29.6 L912.0,29.6 L913.0,29.6 L914.0,29.6 L915.0,29.5 L916.0,29.5 L917.0,29.5 L918.0,29.5 L919.0,29.4 L920.0,29.4 L921.0,29.4 L922.0,29.4 L923.0,29.4 L924.0,29.3 L925.0,29.3 L926.0,29.3 L927.0,29.3 L928.0,29.3 L929.0,29.2 L930.0,29.2 L931.0,29.2 L932.0,29.2 L933.0,29.2 L934.0,29.1 L935.0,29.1 L936.0,29.1 L937.0,29.1 L938.0,29.1 L939.0,29.1 L940.0,29.0 L941.0,29.0 L942.0,29.0 L943.0,29.0 L944.0,29.0 L945.0,29.0 L946.0,29.0 L947.0,28.9 L948.0,28.9 L949.0,28.9 L950.0,28.9 L951.0,28.9 L952.0,28.9 L953.0,28.9 L954.0,28.8 L955.0,28.8 L956.0,28.8 L957.0,28.8 L958.0,28.8 L959.0,28.8 L960.0,28.8 L961.0,28.8 L962.0,28.8 L963.0,28.7 L964.0,28.7 L965.0,28.7 L966.0,28.7 L967.0,28.7 L968.0,28.7 L969.0,28.7 L970.0,28.7 L971.0,28.7 L972.0,28.7 L973.0,28.7 L974.0,28.7 L975.0,28.7 L976.0,28.6 L977.0,28.6 L978.0,28.6 L979.0,28.6 L980.0,28.6 L981.0,28.6 L982.0,28.6 L983.0,28.6 L984.0,28.6 L985.0,28.6 L986.0,28.6 L987.0,28.6 L988.0,28.6 L989.0,28.6 L990.0,28.6 L991.0,28.5" fill="none" stroke="#00B050" stroke-width="5" stroke-dasharray="0 13" stroke-linecap="round" clip-path="url(#pa)"/><path d="M191.00,372.51 v14 M184.00,372.51 l14,14 M198.00,372.51 l-14,14 M197.67,365.25 v14 M190.67,365.25 l14,14 M204.67,365.25 l-14,14 M204.33,357.99 v14 M197.33,357.99 l14,14 M211.33,357.99 l-14,14 M211.00,350.74 v14 M204.00,350.74 l14,14 M218.00,350.74 l-14,14 M217.67,343.48 v14 M210.67,343.48 l14,14 M224.67,343.48 l-14,14 M224.33,336.22 v14 M217.33,336.22 l14,14 M231.33,336.22 l-14,14 M231.00,328.96 v14 M224.00,328.96 l14,14 M238.00,328.96 l-14,14 M237.67,321.69 v14 M230.67,321.69 l14,14 M244.67,321.69 l-14,14 M244.33,314.43 v14 M237.33,314.43 l14,14 M251.33,314.43 l-14,14 M251.00,307.16 v14 M244.00,307.16 l14,14 M258.00,307.16 l-14,14 M257.67,299.89 v14 M250.67,299.89 l14,14 M264.67,299.89 l-14,14 M264.33,292.61 v14 M257.33,292.61 l14,14 M271.33,292.61 l-14,14 M271.00,285.34 v14 M264.00,285.34 l14,14 M278.00,285.34 l-14,14 M277.67,278.06 v14 M270.67,278.06 l14,14 M284.67,278.06 l-14,14 M284.33,270.78 v14 M277.33,270.78 l14,14 M291.33,270.78 l-14,14 M291.00,263.47 v14 M284.00,263.47 l14,14 M298.00,263.47 l-14,14 M297.67,256.11 v14 M290.67,256.11 l14,14 M304.67,256.11 l-14,14 M304.33,248.67 v14 M297.33,248.67 l14,14 M311.33,248.67 l-14,14 M311.00,241.16 v14 M304.00,241.16 l14,14 M318.00,241.16 l-14,14 M317.67,233.60 v14 M310.67,233.60 l14,14 M324.67,233.60 l-14,14 M324.33,226.02 v14 M317.33,226.02 l14,14 M331.33,226.02 l-14,14 M331.00,218.43 v14 M324.00,218.43 l14,14 M338.00,218.43 l-14,14 M337.67,210.86 v14 M330.67,210.86 l14,14 M344.67,210.86 l-14,14 M344.33,203.34 v14 M337.33,203.34 l14,14 M351.33,203.34 l-14,14 M351.00,195.90 v14 M344.00,195.90 l14,14 M358.00,195.90 l-14,14 M357.67,188.55 v14 M350.67,188.55 l14,14 M364.67,188.55 l-14,14 M364.33,181.32 v14 M357.33,181.32 l14,14 M371.33,181.32 l-14,14 M371.00,174.24 v14 M364.00,174.24 l14,14 M378.00,174.24 l-14,14 M377.67,167.33 v14 M370.67,167.33 l14,14 M384.67,167.33 l-14,14 M384.33,160.62 v14 M377.33,160.62 l14,14 M391.33,160.62 l-14,14 M391.00,154.11 v14 M384.00,154.11 l14,14 M398.00,154.11 l-14,14 M397.67,147.82 v14 M390.67,147.82 l14,14 M404.67,147.82 l-14,14 M404.33,141.73 v14 M397.33,141.73 l14,14 M411.33,141.73 l-14,14 M411.00,135.86 v14 M404.00,135.86 l14,14 M418.00,135.86 l-14,14 M417.67,130.24 v14 M410.67,130.24 l14,14 M424.67,130.24 l-14,14 M424.33,124.87 v14 M417.33,124.87 l14,14 M431.33,124.87 l-14,14 M431.00,119.73 v14 M424.00,119.73 l14,14 M438.00,119.73 l-14,14 M437.67,114.80 v14 M430.67,114.80 l14,14 M444.67,114.80 l-14,14 M444.33,110.08 v14 M437.33,110.08 l14,14 M451.33,110.08 l-14,14 M451.00,105.60 v14 M444.00,105.60 l14,14 M458.00,105.60 l-14,14 M457.67,101.35 v14 M450.67,101.35 l14,14 M464.67,101.35 l-14,14 M464.33,97.34 v14 M457.33,97.34 l14,14 M471.33,97.34 l-14,14 M471.00,93.55 v14 M464.00,93.55 l14,14 M478.00,93.55 l-14,14 M477.67,89.92 v14 M470.67,89.92 l14,14 M484.67,89.92 l-14,14 M484.33,86.41 v14 M477.33,86.41 l14,14 M491.33,86.41 l-14,14 M491.00,82.96 v14 M484.00,82.96 l14,14 M498.00,82.96 l-14,14 M497.67,79.58 v14 M490.67,79.58 l14,14 M504.67,79.58 l-14,14 M504.33,76.28 v14 M497.33,76.28 l14,14 M511.33,76.28 l-14,14 M511.00,73.11 v14 M504.00,73.11 l14,14 M518.00,73.11 l-14,14 M517.67,70.08 v14 M510.67,70.08 l14,14 M524.67,70.08 l-14,14 M524.33,67.16 v14 M517.33,67.16 l14,14 M531.33,67.16 l-14,14 M531.00,64.33 v14 M524.00,64.33 l14,14 M538.00,64.33 l-14,14 M537.67,61.59 v14 M530.67,61.59 l14,14 M544.67,61.59 l-14,14 M544.33,59.03 v14 M537.33,59.03 l14,14 M551.33,59.03 l-14,14 M551.00,56.74 v14 M544.00,56.74 l14,14 M558.00,56.74 l-14,14 M557.67,54.78 v14 M550.67,54.78 l14,14 M564.67,54.78 l-14,14 M564.33,53.14 v14 M557.33,53.14 l14,14 M571.33,53.14 l-14,14 M571.00,51.73 v14 M564.00,51.73 l14,14 M578.00,51.73 l-14,14 M577.67,50.48 v14 M570.67,50.48 l14,14 M584.67,50.48 l-14,14 M584.33,49.35 v14 M577.33,49.35 l14,14 M591.33,49.35 l-14,14 M591.00,48.31 v14 M584.00,48.31 l14,14 M598.00,48.31 l-14,14 M597.67,47.32 v14 M590.67,47.32 l14,14 M604.67,47.32 l-14,14 M604.33,46.37 v14 M597.33,46.37 l14,14 M611.33,46.37 l-14,14 M611.00,45.42 v14 M604.00,45.42 l14,14 M618.00,45.42 l-14,14 M617.67,44.44 v14 M610.67,44.44 l14,14 M624.67,44.44 l-14,14 M624.33,43.42 v14 M617.33,43.42 l14,14 M631.33,43.42 l-14,14 M631.00,42.37 v14 M624.00,42.37 l14,14 M638.00,42.37 l-14,14 M637.67,41.30 v14 M630.67,41.30 l14,14 M644.67,41.30 l-14,14 M644.33,40.25 v14 M637.33,40.25 l14,14 M651.33,40.25 l-14,14 M651.00,39.26 v14 M644.00,39.26 l14,14 M658.00,39.26 l-14,14 M657.67,38.34 v14 M650.67,38.34 l14,14 M664.67,38.34 l-14,14 M664.33,37.51 v14 M657.33,37.51 l14,14 M671.33,37.51 l-14,14 M671.00,36.75 v14 M664.00,36.75 l14,14 M678.00,36.75 l-14,14 M677.67,36.02 v14 M670.67,36.02 l14,14 M684.67,36.02 l-14,14 M684.33,35.34 v14 M677.33,35.34 l14,14 M691.33,35.34 l-14,14 M691.00,34.68 v14 M684.00,34.68 l14,14 M698.00,34.68 l-14,14 M697.67,34.06 v14 M690.67,34.06 l14,14 M704.67,34.06 l-14,14 M704.33,33.46 v14 M697.33,33.46 l14,14 M711.33,33.46 l-14,14 M711.00,32.88 v14 M704.00,32.88 l14,14 M718.00,32.88 l-14,14 M717.67,32.32 v14 M710.67,32.32 l14,14 M724.67,32.32 l-14,14 M724.33,31.78 v14 M717.33,31.78 l14,14 M731.33,31.78 l-14,14 M731.00,31.24 v14 M724.00,31.24 l14,14 M738.00,31.24 l-14,14 M737.67,30.70 v14 M730.67,30.70 l14,14 M744.67,30.70 l-14,14 M744.33,30.17 v14 M737.33,30.17 l14,14 M751.33,30.17 l-14,14 M751.00,29.65 v14 M744.00,29.65 l14,14 M758.00,29.65 l-14,14 M757.67,29.13 v14 M750.67,29.13 l14,14 M764.67,29.13 l-14,14 M764.33,28.63 v14 M757.33,28.63 l14,14 M771.33,28.63 l-14,14 M771.00,28.14 v14 M764.00,28.14 l14,14 M778.00,28.14 l-14,14 M777.67,27.68 v14 M770.67,27.68 l14,14 M784.67,27.68 l-14,14 M784.33,27.24 v14 M777.33,27.24 l14,14 M791.33,27.24 l-14,14 M791.00,26.82 v14 M784.00,26.82 l14,14 M798.00,26.82 l-14,14 M797.67,26.44 v14 M790.67,26.44 l14,14 M804.67,26.44 l-14,14 M804.33,26.09 v14 M797.33,26.09 l14,14 M811.33,26.09 l-14,14 M811.00,25.78 v14 M804.00,25.78 l14,14 M818.00,25.78 l-14,14 M817.67,25.50 v14 M810.67,25.50 l14,14 M824.67,25.50 l-14,14 M824.33,25.25 v14 M817.33,25.25 l14,14 M831.33,25.25 l-14,14 M831.00,25.02 v14 M824.00,25.02 l14,14 M838.00,25.02 l-14,14 M837.67,24.79 v14 M830.67,24.79 l14,14 M844.67,24.79 l-14,14 M844.33,24.57 v14 M837.33,24.57 l14,14 M851.33,24.57 l-14,14 M851.00,24.35 v14 M844.00,24.35 l14,14 M858.00,24.35 l-14,14 M857.67,24.13 v14 M850.67,24.13 l14,14 M864.67,24.13 l-14,14 M864.33,23.92 v14 M857.33,23.92 l14,14 M871.33,23.92 l-14,14 M871.00,23.71 v14 M864.00,23.71 l14,14 M878.00,23.71 l-14,14 M877.67,23.51 v14 M870.67,23.51 l14,14 M884.67,23.51 l-14,14 M884.33,23.32 v14 M877.33,23.32 l14,14 M891.33,23.32 l-14,14 M891.00,23.13 v14 M884.00,23.13 l14,14 M898.00,23.13 l-14,14 M897.67,22.96 v14 M890.67,22.96 l14,14 M904.67,22.96 l-14,14 M904.33,22.79 v14 M897.33,22.79 l14,14 M911.33,22.79 l-14,14 M911.00,22.63 v14 M904.00,22.63 l14,14 M918.00,22.63 l-14,14 M917.67,22.47 v14 M910.67,22.47 l14,14 M924.67,22.47 l-14,14 M924.33,22.33 v14 M917.33,22.33 l14,14 M931.33,22.33 l-14,14 M931.00,22.20 v14 M924.00,22.20 l14,14 M938.00,22.20 l-14,14 M937.67,22.08 v14 M930.67,22.08 l14,14 M944.67,22.08 l-14,14 M944.33,21.98 v14 M937.33,21.98 l14,14 M951.33,21.98 l-14,14 M951.00,21.88 v14 M944.00,21.88 l14,14 M958.00,21.88 l-14,14 M957.67,21.80 v14 M950.67,21.80 l14,14 M964.67,21.80 l-14,14 M964.33,21.73 v14 M957.33,21.73 l14,14 M971.33,21.73 l-14,14 M971.00,21.68 v14 M964.00,21.68 l14,14 M978.00,21.68 l-14,14 M977.67,21.64 v14 M970.67,21.64 l14,14 M984.67,21.64 l-14,14 M984.33,21.60 v14 M977.33,21.60 l14,14 M991.33,21.60 l-14,14 M991.00,21.54 v14 M984.00,21.54 l14,14 M998.00,21.54 l-14,14" fill="none" stroke="#00B050" stroke-width="2.9" stroke-linecap="round"/><path d="M191.00,495.18 L197.50,507.58 L184.50,507.58 Z M197.67,485.39 L204.17,497.79 L191.17,497.79 Z M204.33,475.59 L210.83,487.99 L197.83,487.99 Z M211.00,465.80 L217.50,478.20 L204.50,478.20 Z M217.67,456.01 L224.17,468.41 L211.17,468.41 Z M224.33,446.23 L230.83,458.63 L217.83,458.63 Z M231.00,436.45 L237.50,448.85 L224.50,448.85 Z M237.67,426.68 L244.17,439.08 L231.17,439.08 Z M244.33,416.92 L250.83,429.32 L237.83,429.32 Z M251.00,407.16 L257.50,419.56 L244.50,419.56 Z M257.67,397.41 L264.17,409.81 L251.17,409.81 Z M264.33,387.67 L270.83,400.07 L257.83,400.07 Z M271.00,377.93 L277.50,390.33 L264.50,390.33 Z M277.67,368.20 L284.17,380.60 L271.17,380.60 Z M284.33,358.47 L290.83,370.87 L277.83,370.87 Z M291.00,348.75 L297.50,361.15 L284.50,361.15 Z M297.67,339.03 L304.17,351.43 L291.17,351.43 Z M304.33,329.32 L310.83,341.72 L297.83,341.72 Z M311.00,319.62 L317.50,332.02 L304.50,332.02 Z M317.67,309.91 L324.17,322.31 L311.17,322.31 Z M324.33,300.21 L330.83,312.61 L317.83,312.61 Z M331.00,290.50 L337.50,302.90 L324.50,302.90 Z M337.67,280.79 L344.17,293.19 L331.17,293.19 Z M344.33,271.07 L350.83,283.47 L337.83,283.47 Z M351.00,261.35 L357.50,273.75 L344.50,273.75 Z M357.67,251.65 L364.17,264.05 L351.17,264.05 Z M364.33,241.96 L370.83,254.36 L357.83,254.36 Z M371.00,232.29 L377.50,244.69 L364.50,244.69 Z M377.67,222.66 L384.17,235.06 L371.17,235.06 Z M384.33,213.07 L390.83,225.47 L377.83,225.47 Z M391.00,203.52 L397.50,215.92 L384.50,215.92 Z M397.67,194.01 L404.17,206.41 L391.17,206.41 Z M404.33,184.51 L410.83,196.91 L397.83,196.91 Z M411.00,175.04 L417.50,187.44 L404.50,187.44 Z M417.67,165.73 L424.17,178.13 L411.17,178.13 Z M424.33,156.73 L430.83,169.13 L417.83,169.13 Z M431.00,148.16 L437.50,160.56 L424.50,160.56 Z M437.67,140.02 L444.17,152.42 L431.17,152.42 Z M444.33,132.27 L450.83,144.67 L437.83,144.67 Z M451.00,124.90 L457.50,137.30 L444.50,137.30 Z M457.67,117.90 L464.17,130.30 L451.17,130.30 Z M464.33,111.26 L470.83,123.66 L457.83,123.66 Z M471.00,104.95 L477.50,117.35 L464.50,117.35 Z M477.67,99.11 L484.17,111.51 L471.17,111.51 Z M484.33,94.13 L490.83,106.53 L477.83,106.53 Z M491.00,90.30 L497.50,102.70 L484.50,102.70 Z M497.67,87.42 L504.17,99.82 L491.17,99.82 Z M504.33,85.08 L510.83,97.48 L497.83,97.48 Z M511.00,82.97 L517.50,95.37 L504.50,95.37 Z M517.67,80.87 L524.17,93.27 L511.17,93.27 Z M524.33,78.68 L530.83,91.08 L517.83,91.08 Z M531.00,76.41 L537.50,88.81 L524.50,88.81 Z M537.67,74.14 L544.17,86.54 L531.17,86.54 Z M544.33,71.93 L550.83,84.33 L537.83,84.33 Z M551.00,69.84 L557.50,82.24 L544.50,82.24 Z M557.67,67.92 L564.17,80.32 L551.17,80.32 Z M564.33,66.16 L570.83,78.56 L557.83,78.56 Z M571.00,64.55 L577.50,76.95 L564.50,76.95 Z M577.67,63.07 L584.17,75.47 L571.17,75.47 Z M584.33,61.77 L590.83,74.17 L577.83,74.17 Z M591.00,60.63 L597.50,73.03 L584.50,73.03 Z M597.67,59.66 L604.17,72.06 L591.17,72.06 Z M604.33,58.80 L610.83,71.20 L597.83,71.20 Z M611.00,58.03 L617.50,70.43 L604.50,70.43 Z M617.67,57.33 L624.17,69.73 L611.17,69.73 Z M624.33,56.70 L630.83,69.10 L617.83,69.10 Z M631.00,56.11 L637.50,68.51 L624.50,68.51 Z M637.67,55.56 L644.17,67.96 L631.17,67.96 Z M644.33,55.06 L650.83,67.46 L637.83,67.46 Z M651.00,54.59 L657.50,66.99 L644.50,66.99 Z M657.67,54.16 L664.17,66.56 L651.17,66.56 Z M664.33,53.76 L670.83,66.16 L657.83,66.16 Z M671.00,53.40 L677.50,65.80 L664.50,65.80 Z M677.67,53.06 L684.17,65.46 L671.17,65.46 Z M684.33,52.75 L690.83,65.15 L677.83,65.15 Z M691.00,52.47 L697.50,64.87 L684.50,64.87 Z M697.67,52.20 L704.17,64.60 L691.17,64.60 Z M704.33,51.94 L710.83,64.34 L697.83,64.34 Z M711.00,51.68 L717.50,64.08 L704.50,64.08 Z M717.67,51.43 L724.17,63.83 L711.17,63.83 Z M724.33,51.20 L730.83,63.60 L717.83,63.60 Z M731.00,50.96 L737.50,63.36 L724.50,63.36 Z M737.67,50.74 L744.17,63.14 L731.17,63.14 Z M744.33,50.52 L750.83,62.92 L737.83,62.92 Z M751.00,50.32 L757.50,62.72 L744.50,62.72 Z M757.67,50.12 L764.17,62.52 L751.17,62.52 Z M764.33,49.93 L770.83,62.33 L757.83,62.33 Z M771.00,49.76 L777.50,62.16 L764.50,62.16 Z M777.67,49.59 L784.17,61.99 L771.17,61.99 Z M784.33,49.43 L790.83,61.83 L777.83,61.83 Z M791.00,49.28 L797.50,61.68 L784.50,61.68 Z M797.67,49.15 L804.17,61.55 L791.17,61.55 Z M804.33,49.02 L810.83,61.42 L797.83,61.42 Z M811.00,48.90 L817.50,61.30 L804.50,61.30 Z M817.67,48.78 L824.17,61.18 L811.17,61.18 Z M824.33,48.67 L830.83,61.07 L817.83,61.07 Z M831.00,48.56 L837.50,60.96 L824.50,60.96 Z M837.67,48.46 L844.17,60.86 L831.17,60.86 Z M844.33,48.36 L850.83,60.76 L837.83,60.76 Z M851.00,48.27 L857.50,60.67 L844.50,60.67 Z M857.67,48.17 L864.17,60.57 L851.17,60.57 Z M864.33,48.08 L870.83,60.48 L857.83,60.48 Z M871.00,47.98 L877.50,60.38 L864.50,60.38 Z M877.67,47.88 L884.17,60.28 L871.17,60.28 Z M884.33,47.78 L890.83,60.18 L877.83,60.18 Z M891.00,47.68 L897.50,60.08 L884.50,60.08 Z M897.67,47.58 L904.17,59.98 L891.17,59.98 Z M904.33,47.48 L910.83,59.88 L897.83,59.88 Z M911.00,47.38 L917.50,59.78 L904.50,59.78 Z M917.67,47.28 L924.17,59.68 L911.17,59.68 Z M924.33,47.18 L930.83,59.58 L917.83,59.58 Z M931.00,47.08 L937.50,59.48 L924.50,59.48 Z M937.67,46.98 L944.17,59.38 L931.17,59.38 Z M944.33,46.88 L950.83,59.28 L937.83,59.28 Z M951.00,46.78 L957.50,59.18 L944.50,59.18 Z M957.67,46.68 L964.17,59.08 L951.17,59.08 Z M964.33,46.59 L970.83,58.99 L957.83,58.99 Z M971.00,46.49 L977.50,58.89 L964.50,58.89 Z M977.67,46.39 L984.17,58.79 L971.17,58.79 Z M984.33,46.30 L990.83,58.70 L977.83,58.70 Z M991.00,46.20 L997.50,58.60 L984.50,58.60 Z" fill="none" stroke="#000" stroke-width="2.6" stroke-linejoin="miter"/><path d="M195.60,344.70 a4.6,4.6 0 1,0 -9.2,0 a4.6,4.6 0 1,0 9.2,0 Z M202.27,338.22 a4.6,4.6 0 1,0 -9.2,0 a4.6,4.6 0 1,0 9.2,0 Z M208.93,331.74 a4.6,4.6 0 1,0 -9.2,0 a4.6,4.6 0 1,0 9.2,0 Z M215.60,325.26 a4.6,4.6 0 1,0 -9.2,0 a4.6,4.6 0 1,0 9.2,0 Z M222.27,318.78 a4.6,4.6 0 1,0 -9.2,0 a4.6,4.6 0 1,0 9.2,0 Z M228.93,312.30 a4.6,4.6 0 1,0 -9.2,0 a4.6,4.6 0 1,0 9.2,0 Z M235.60,305.82 a4.6,4.6 0 1,0 -9.2,0 a4.6,4.6 0 1,0 9.2,0 Z M242.27,299.35 a4.6,4.6 0 1,0 -9.2,0 a4.6,4.6 0 1,0 9.2,0 Z M248.93,292.87 a4.6,4.6 0 1,0 -9.2,0 a4.6,4.6 0 1,0 9.2,0 Z M255.60,286.40 a4.6,4.6 0 1,0 -9.2,0 a4.6,4.6 0 1,0 9.2,0 Z M262.27,279.92 a4.6,4.6 0 1,0 -9.2,0 a4.6,4.6 0 1,0 9.2,0 Z M268.93,273.45 a4.6,4.6 0 1,0 -9.2,0 a4.6,4.6 0 1,0 9.2,0 Z M275.60,266.98 a4.6,4.6 0 1,0 -9.2,0 a4.6,4.6 0 1,0 9.2,0 Z M282.27,260.52 a4.6,4.6 0 1,0 -9.2,0 a4.6,4.6 0 1,0 9.2,0 Z M288.93,254.05 a4.6,4.6 0 1,0 -9.2,0 a4.6,4.6 0 1,0 9.2,0 Z M295.60,247.59 a4.6,4.6 0 1,0 -9.2,0 a4.6,4.6 0 1,0 9.2,0 Z M302.27,241.12 a4.6,4.6 0 1,0 -9.2,0 a4.6,4.6 0 1,0 9.2,0 Z M308.93,234.66 a4.6,4.6 0 1,0 -9.2,0 a4.6,4.6 0 1,0 9.2,0 Z M315.60,228.19 a4.6,4.6 0 1,0 -9.2,0 a4.6,4.6 0 1,0 9.2,0 Z M322.27,221.72 a4.6,4.6 0 1,0 -9.2,0 a4.6,4.6 0 1,0 9.2,0 Z M328.93,215.25 a4.6,4.6 0 1,0 -9.2,0 a4.6,4.6 0 1,0 9.2,0 Z M335.60,208.74 a4.6,4.6 0 1,0 -9.2,0 a4.6,4.6 0 1,0 9.2,0 Z M342.27,202.21 a4.6,4.6 0 1,0 -9.2,0 a4.6,4.6 0 1,0 9.2,0 Z M348.93,195.65 a4.6,4.6 0 1,0 -9.2,0 a4.6,4.6 0 1,0 9.2,0 Z M355.60,189.09 a4.6,4.6 0 1,0 -9.2,0 a4.6,4.6 0 1,0 9.2,0 Z M362.27,182.54 a4.6,4.6 0 1,0 -9.2,0 a4.6,4.6 0 1,0 9.2,0 Z M368.93,176.02 a4.6,4.6 0 1,0 -9.2,0 a4.6,4.6 0 1,0 9.2,0 Z M375.60,169.55 a4.6,4.6 0 1,0 -9.2,0 a4.6,4.6 0 1,0 9.2,0 Z M382.27,163.16 a4.6,4.6 0 1,0 -9.2,0 a4.6,4.6 0 1,0 9.2,0 Z M388.93,156.86 a4.6,4.6 0 1,0 -9.2,0 a4.6,4.6 0 1,0 9.2,0 Z M395.60,150.67 a4.6,4.6 0 1,0 -9.2,0 a4.6,4.6 0 1,0 9.2,0 Z M402.27,144.60 a4.6,4.6 0 1,0 -9.2,0 a4.6,4.6 0 1,0 9.2,0 Z M408.93,138.64 a4.6,4.6 0 1,0 -9.2,0 a4.6,4.6 0 1,0 9.2,0 Z M415.60,132.76 a4.6,4.6 0 1,0 -9.2,0 a4.6,4.6 0 1,0 9.2,0 Z M422.27,126.93 a4.6,4.6 0 1,0 -9.2,0 a4.6,4.6 0 1,0 9.2,0 Z M428.93,121.08 a4.6,4.6 0 1,0 -9.2,0 a4.6,4.6 0 1,0 9.2,0 Z M435.60,115.23 a4.6,4.6 0 1,0 -9.2,0 a4.6,4.6 0 1,0 9.2,0 Z M442.27,109.61 a4.6,4.6 0 1,0 -9.2,0 a4.6,4.6 0 1,0 9.2,0 Z M448.93,104.54 a4.6,4.6 0 1,0 -9.2,0 a4.6,4.6 0 1,0 9.2,0 Z M455.60,100.18 a4.6,4.6 0 1,0 -9.2,0 a4.6,4.6 0 1,0 9.2,0 Z M462.27,96.42 a4.6,4.6 0 1,0 -9.2,0 a4.6,4.6 0 1,0 9.2,0 Z M468.93,93.07 a4.6,4.6 0 1,0 -9.2,0 a4.6,4.6 0 1,0 9.2,0 Z M475.60,89.99 a4.6,4.6 0 1,0 -9.2,0 a4.6,4.6 0 1,0 9.2,0 Z M482.27,87.09 a4.6,4.6 0 1,0 -9.2,0 a4.6,4.6 0 1,0 9.2,0 Z M488.93,84.34 a4.6,4.6 0 1,0 -9.2,0 a4.6,4.6 0 1,0 9.2,0 Z M495.60,81.69 a4.6,4.6 0 1,0 -9.2,0 a4.6,4.6 0 1,0 9.2,0 Z M502.27,79.13 a4.6,4.6 0 1,0 -9.2,0 a4.6,4.6 0 1,0 9.2,0 Z M508.93,76.65 a4.6,4.6 0 1,0 -9.2,0 a4.6,4.6 0 1,0 9.2,0 Z M515.60,74.26 a4.6,4.6 0 1,0 -9.2,0 a4.6,4.6 0 1,0 9.2,0 Z M522.27,71.95 a4.6,4.6 0 1,0 -9.2,0 a4.6,4.6 0 1,0 9.2,0 Z M528.93,69.68 a4.6,4.6 0 1,0 -9.2,0 a4.6,4.6 0 1,0 9.2,0 Z M535.60,67.43 a4.6,4.6 0 1,0 -9.2,0 a4.6,4.6 0 1,0 9.2,0 Z M542.27,65.24 a4.6,4.6 0 1,0 -9.2,0 a4.6,4.6 0 1,0 9.2,0 Z M548.93,63.17 a4.6,4.6 0 1,0 -9.2,0 a4.6,4.6 0 1,0 9.2,0 Z M555.60,61.25 a4.6,4.6 0 1,0 -9.2,0 a4.6,4.6 0 1,0 9.2,0 Z M562.27,59.48 a4.6,4.6 0 1,0 -9.2,0 a4.6,4.6 0 1,0 9.2,0 Z M568.93,57.81 a4.6,4.6 0 1,0 -9.2,0 a4.6,4.6 0 1,0 9.2,0 Z M575.60,56.23 a4.6,4.6 0 1,0 -9.2,0 a4.6,4.6 0 1,0 9.2,0 Z M582.27,54.75 a4.6,4.6 0 1,0 -9.2,0 a4.6,4.6 0 1,0 9.2,0 Z M588.93,53.35 a4.6,4.6 0 1,0 -9.2,0 a4.6,4.6 0 1,0 9.2,0 Z M595.60,52.04 a4.6,4.6 0 1,0 -9.2,0 a4.6,4.6 0 1,0 9.2,0 Z M602.27,50.80 a4.6,4.6 0 1,0 -9.2,0 a4.6,4.6 0 1,0 9.2,0 Z M608.93,49.62 a4.6,4.6 0 1,0 -9.2,0 a4.6,4.6 0 1,0 9.2,0 Z M615.60,48.49 a4.6,4.6 0 1,0 -9.2,0 a4.6,4.6 0 1,0 9.2,0 Z M622.27,47.40 a4.6,4.6 0 1,0 -9.2,0 a4.6,4.6 0 1,0 9.2,0 Z M628.93,46.36 a4.6,4.6 0 1,0 -9.2,0 a4.6,4.6 0 1,0 9.2,0 Z M635.60,45.36 a4.6,4.6 0 1,0 -9.2,0 a4.6,4.6 0 1,0 9.2,0 Z M642.27,44.39 a4.6,4.6 0 1,0 -9.2,0 a4.6,4.6 0 1,0 9.2,0 Z M648.93,43.47 a4.6,4.6 0 1,0 -9.2,0 a4.6,4.6 0 1,0 9.2,0 Z M655.60,42.57 a4.6,4.6 0 1,0 -9.2,0 a4.6,4.6 0 1,0 9.2,0 Z M662.27,41.71 a4.6,4.6 0 1,0 -9.2,0 a4.6,4.6 0 1,0 9.2,0 Z M668.93,40.87 a4.6,4.6 0 1,0 -9.2,0 a4.6,4.6 0 1,0 9.2,0 Z M675.60,40.06 a4.6,4.6 0 1,0 -9.2,0 a4.6,4.6 0 1,0 9.2,0 Z M682.27,39.27 a4.6,4.6 0 1,0 -9.2,0 a4.6,4.6 0 1,0 9.2,0 Z M688.93,38.51 a4.6,4.6 0 1,0 -9.2,0 a4.6,4.6 0 1,0 9.2,0 Z M695.60,37.78 a4.6,4.6 0 1,0 -9.2,0 a4.6,4.6 0 1,0 9.2,0 Z M702.27,37.07 a4.6,4.6 0 1,0 -9.2,0 a4.6,4.6 0 1,0 9.2,0 Z M708.93,36.40 a4.6,4.6 0 1,0 -9.2,0 a4.6,4.6 0 1,0 9.2,0 Z M715.60,35.76 a4.6,4.6 0 1,0 -9.2,0 a4.6,4.6 0 1,0 9.2,0 Z M722.27,35.16 a4.6,4.6 0 1,0 -9.2,0 a4.6,4.6 0 1,0 9.2,0 Z M728.93,34.59 a4.6,4.6 0 1,0 -9.2,0 a4.6,4.6 0 1,0 9.2,0 Z M735.60,34.06 a4.6,4.6 0 1,0 -9.2,0 a4.6,4.6 0 1,0 9.2,0 Z M742.27,33.56 a4.6,4.6 0 1,0 -9.2,0 a4.6,4.6 0 1,0 9.2,0 Z M748.93,33.09 a4.6,4.6 0 1,0 -9.2,0 a4.6,4.6 0 1,0 9.2,0 Z M755.60,32.64 a4.6,4.6 0 1,0 -9.2,0 a4.6,4.6 0 1,0 9.2,0 Z M762.27,32.21 a4.6,4.6 0 1,0 -9.2,0 a4.6,4.6 0 1,0 9.2,0 Z M768.93,31.79 a4.6,4.6 0 1,0 -9.2,0 a4.6,4.6 0 1,0 9.2,0 Z M775.60,31.38 a4.6,4.6 0 1,0 -9.2,0 a4.6,4.6 0 1,0 9.2,0 Z M782.27,30.97 a4.6,4.6 0 1,0 -9.2,0 a4.6,4.6 0 1,0 9.2,0 Z M788.93,30.55 a4.6,4.6 0 1,0 -9.2,0 a4.6,4.6 0 1,0 9.2,0 Z M795.60,30.13 a4.6,4.6 0 1,0 -9.2,0 a4.6,4.6 0 1,0 9.2,0 Z M802.27,29.70 a4.6,4.6 0 1,0 -9.2,0 a4.6,4.6 0 1,0 9.2,0 Z M808.93,29.27 a4.6,4.6 0 1,0 -9.2,0 a4.6,4.6 0 1,0 9.2,0 Z M815.60,28.83 a4.6,4.6 0 1,0 -9.2,0 a4.6,4.6 0 1,0 9.2,0 Z M822.27,28.39 a4.6,4.6 0 1,0 -9.2,0 a4.6,4.6 0 1,0 9.2,0 Z M828.93,27.95 a4.6,4.6 0 1,0 -9.2,0 a4.6,4.6 0 1,0 9.2,0 Z M835.60,27.51 a4.6,4.6 0 1,0 -9.2,0 a4.6,4.6 0 1,0 9.2,0 Z M842.27,27.08 a4.6,4.6 0 1,0 -9.2,0 a4.6,4.6 0 1,0 9.2,0 Z M848.93,26.66 a4.6,4.6 0 1,0 -9.2,0 a4.6,4.6 0 1,0 9.2,0 Z M855.60,26.25 a4.6,4.6 0 1,0 -9.2,0 a4.6,4.6 0 1,0 9.2,0 Z M862.27,25.85 a4.6,4.6 0 1,0 -9.2,0 a4.6,4.6 0 1,0 9.2,0 Z M868.93,25.47 a4.6,4.6 0 1,0 -9.2,0 a4.6,4.6 0 1,0 9.2,0 Z M875.60,25.11 a4.6,4.6 0 1,0 -9.2,0 a4.6,4.6 0 1,0 9.2,0 Z M882.27,24.77 a4.6,4.6 0 1,0 -9.2,0 a4.6,4.6 0 1,0 9.2,0 Z M888.93,24.46 a4.6,4.6 0 1,0 -9.2,0 a4.6,4.6 0 1,0 9.2,0 Z M895.60,24.17 a4.6,4.6 0 1,0 -9.2,0 a4.6,4.6 0 1,0 9.2,0 Z M902.27,23.89 a4.6,4.6 0 1,0 -9.2,0 a4.6,4.6 0 1,0 9.2,0 Z M908.93,23.62 a4.6,4.6 0 1,0 -9.2,0 a4.6,4.6 0 1,0 9.2,0 Z M915.60,23.36 a4.6,4.6 0 1,0 -9.2,0 a4.6,4.6 0 1,0 9.2,0 Z M922.27,23.11 a4.6,4.6 0 1,0 -9.2,0 a4.6,4.6 0 1,0 9.2,0 Z M928.93,22.86 a4.6,4.6 0 1,0 -9.2,0 a4.6,4.6 0 1,0 9.2,0 Z M935.60,22.62 a4.6,4.6 0 1,0 -9.2,0 a4.6,4.6 0 1,0 9.2,0 Z M942.27,22.40 a4.6,4.6 0 1,0 -9.2,0 a4.6,4.6 0 1,0 9.2,0 Z M948.93,22.18 a4.6,4.6 0 1,0 -9.2,0 a4.6,4.6 0 1,0 9.2,0 Z M955.60,21.97 a4.6,4.6 0 1,0 -9.2,0 a4.6,4.6 0 1,0 9.2,0 Z M962.27,21.78 a4.6,4.6 0 1,0 -9.2,0 a4.6,4.6 0 1,0 9.2,0 Z M968.93,21.60 a4.6,4.6 0 1,0 -9.2,0 a4.6,4.6 0 1,0 9.2,0 Z M975.60,21.43 a4.6,4.6 0 1,0 -9.2,0 a4.6,4.6 0 1,0 9.2,0 Z M982.27,21.27 a4.6,4.6 0 1,0 -9.2,0 a4.6,4.6 0 1,0 9.2,0 Z M988.93,21.12 a4.6,4.6 0 1,0 -9.2,0 a4.6,4.6 0 1,0 9.2,0 Z M995.60,20.96 a4.6,4.6 0 1,0 -9.2,0 a4.6,4.6 0 1,0 9.2,0 Z" fill="none" stroke="#0070C0" stroke-width="2.7"/><text x="157" y="39.6" text-anchor="end" style="font-family:'Liberation Serif','Times New Roman',serif;font-weight:bold;stroke:#000;stroke-width:0.45px;font-size:38.6px">1E-04</text><text x="157" y="124.2" text-anchor="end" style="font-family:'Liberation Serif','Times New Roman',serif;font-weight:bold;stroke:#000;stroke-width:0.45px;font-size:38.6px">1E-06</text><text x="157" y="208.8" text-anchor="end" style="font-family:'Liberation Serif','Times New Roman',serif;font-weight:bold;stroke:#000;stroke-width:0.45px;font-size:38.6px">1E-08</text><text x="157" y="293.4" text-anchor="end" style="font-family:'Liberation Serif','Times New Roman',serif;font-weight:bold;stroke:#000;stroke-width:0.45px;font-size:38.6px">1E-10</text><text x="157" y="378.0" text-anchor="end" style="font-family:'Liberation Serif','Times New Roman',serif;font-weight:bold;stroke:#000;stroke-width:0.45px;font-size:38.6px">1E-12</text><text x="157" y="462.6" text-anchor="end" style="font-family:'Liberation Serif','Times New Roman',serif;font-weight:bold;stroke:#000;stroke-width:0.45px;font-size:38.6px">1E-14</text><text x="157" y="547.2" text-anchor="end" style="font-family:'Liberation Serif','Times New Roman',serif;font-weight:bold;stroke:#000;stroke-width:0.45px;font-size:38.6px">1E-16</text><text x="191.5" y="592.5" text-anchor="middle" style="font-family:'Liberation Serif','Times New Roman',serif;font-weight:bold;stroke:#000;stroke-width:0.45px;font-size:38.2px">0</text><text x="324.8" y="592.5" text-anchor="middle" style="font-family:'Liberation Serif','Times New Roman',serif;font-weight:bold;stroke:#000;stroke-width:0.45px;font-size:38.2px">0.2</text><text x="458.2" y="592.5" text-anchor="middle" style="font-family:'Liberation Serif','Times New Roman',serif;font-weight:bold;stroke:#000;stroke-width:0.45px;font-size:38.2px">0.4</text><text x="591.5" y="592.5" text-anchor="middle" style="font-family:'Liberation Serif','Times New Roman',serif;font-weight:bold;stroke:#000;stroke-width:0.45px;font-size:38.2px">0.6</text><text x="724.8" y="592.5" text-anchor="middle" style="font-family:'Liberation Serif','Times New Roman',serif;font-weight:bold;stroke:#000;stroke-width:0.45px;font-size:38.2px">0.8</text><text x="858.2" y="592.5" text-anchor="middle" style="font-family:'Liberation Serif','Times New Roman',serif;font-weight:bold;stroke:#000;stroke-width:0.45px;font-size:38.2px">1</text><text x="991.5" y="592.5" text-anchor="middle" style="font-family:'Liberation Serif','Times New Roman',serif;font-weight:bold;stroke:#000;stroke-width:0.45px;font-size:38.2px">1.2</text><text x="430" y="640" style="font-family:'Liberation Serif','Times New Roman',serif;font-weight:bold;stroke:#000;stroke-width:0.45px;font-size:45.5px">Gate Voltage, V<tspan dy="9" style="font-size:30px">gs</tspan><tspan dy="-9">(V)</tspan></text><text transform="translate(34,478.5) rotate(-90)" style="font-family:'Liberation Serif','Times New Roman',serif;font-weight:bold;stroke:#000;stroke-width:0.45px;font-size:45.6px">Drain Current, I<tspan dy="9" style="font-size:30px">ds</tspan><tspan dy="-9"> (A)</tspan></text><text x="255" y="82" style="font-family:'Liberation Serif','Times New Roman',serif;font-weight:bold;stroke:#000;stroke-width:0.45px;font-size:35px">V<tspan dy="8" style="font-size:24px">ds</tspan><tspan dy="-8">=1 V</tspan></text><text x="459.5" y="210.8" style="font-family:'Liberation Serif','Times New Roman',serif;font-weight:bold;stroke:#000;stroke-width:0.45px;font-size:38.6px">3-stack MoS<tspan style="font-size:19.5px">2</tspan></text><text x="459.5" y="256" style="font-family:'Liberation Serif','Times New Roman',serif;font-weight:bold;stroke:#000;stroke-width:0.45px;font-size:38.4px">NSFET</text><text x="813.6" y="203.0" style="font-family:'Liberation Serif','Times New Roman',serif;font-weight:bold;stroke:#000;stroke-width:0.45px;font-size:32px">T=220 K</text><text x="813.6" y="258.0" style="font-family:'Liberation Serif','Times New Roman',serif;font-weight:bold;stroke:#000;stroke-width:0.45px;font-size:32px">T=273 K</text><text x="813.6" y="313.0" style="font-family:'Liberation Serif','Times New Roman',serif;font-weight:bold;stroke:#000;stroke-width:0.45px;font-size:32px">T=293.15 K</text><text x="813.6" y="367.5" style="font-family:'Liberation Serif','Times New Roman',serif;font-weight:bold;stroke:#000;stroke-width:0.45px;font-size:32px">T=323 K</text><text x="813.6" y="422.0" style="font-family:'Liberation Serif','Times New Roman',serif;font-weight:bold;stroke:#000;stroke-width:0.45px;font-size:32px">T=373 K</text><text x="813.6" y="478.0" style="font-family:'Liberation Serif','Times New Roman',serif;font-weight:bold;stroke:#000;stroke-width:0.45px;font-size:32px">T=425 K</text><path d="M760,185.7 L766.5,197.2 L753.5,197.2 Z" fill="none" stroke="#000" stroke-width="2.4"/><path d="M720.5,248 H785" fill="none" stroke="#002060" stroke-width="11" stroke-dasharray="0 21.2" stroke-linecap="round"/><path d="M719.6,303.7 H798" fill="none" stroke="#00B050" stroke-width="6.2" stroke-dasharray="0 13" stroke-linecap="round"/><rect x="753" y="294" width="14" height="18" fill="#fff"/><path d="M760,295.2 v14 M753,295.2 l14,14 M767,295.2 l-14,14" fill="none" stroke="#00B050" stroke-width="3.0" stroke-linecap="round"/><circle cx="760" cy="357.5" r="5" fill="none" stroke="#0070C0" stroke-width="2.8"/><path d="M719.5,412 H802" fill="none" stroke="#ED7D31" stroke-width="6.3" stroke-dasharray="13.5 12.5" stroke-linecap="round"/><path d="M720.5,468 H802" fill="none" stroke="#FF0000" stroke-width="7.8" stroke-linecap="round"/></svg>
</body></html>
